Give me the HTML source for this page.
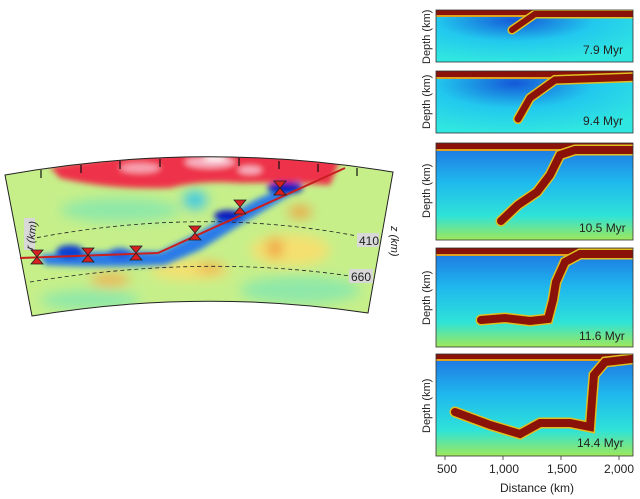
<!DOCTYPE html>
<html><head><style>
body{margin:0;background:#fff;width:640px;height:499px;overflow:hidden;font-family:"Liberation Sans",sans-serif}
svg{position:absolute;left:0;top:0}
</style></head><body>
<svg width="640" height="499" viewBox="0 0 640 499">
<defs>
<clipPath id="fan"><path d="M5,175 Q200,140 393,172 L368,313 Q200,288 32,316 Z"/></clipPath>
<clipPath id="c1"><rect x="436" y="10" width="197" height="52"/></clipPath>
<clipPath id="c2"><rect x="436" y="71" width="197" height="62"/></clipPath>
<clipPath id="c3"><rect x="436" y="143" width="197" height="97"/></clipPath>
<clipPath id="c4"><rect x="436" y="248" width="197" height="99"/></clipPath>
<clipPath id="c5"><rect x="436" y="354" width="197" height="102"/></clipPath>
<filter id="b6" x="-50%" y="-50%" width="200%" height="200%"><feGaussianBlur stdDeviation="6"/></filter>
<filter id="b3" x="-50%" y="-50%" width="200%" height="200%"><feGaussianBlur stdDeviation="3"/></filter>
<linearGradient id="mant" x1="0" y1="0" x2="0" y2="1"><stop offset="0" stop-color="#1f6fe0"/><stop offset="0.4" stop-color="#1fb8ee"/><stop offset="0.75" stop-color="#2ee3d8"/><stop offset="1" stop-color="#9ee85a"/></linearGradient>
<radialGradient id="mant2" cx="0.4" cy="0.2" r="0.8"><stop offset="0" stop-color="#1558d8"/><stop offset="0.5" stop-color="#22c8ee"/><stop offset="1" stop-color="#30e6e0"/></radialGradient>
</defs>
<g clip-path="url(#fan)">
<rect x="0" y="140" width="400" height="190" fill="#c6ef8a"/>
<g filter="url(#b6)">
<ellipse cx="120" cy="210" rx="60" ry="12" fill="#8fe8a8"/>
<ellipse cx="300" cy="290" rx="60" ry="14" fill="#8fe8a8"/>
<ellipse cx="90" cy="300" rx="50" ry="10" fill="#8fe8a8"/>
<ellipse cx="290" cy="250" rx="40" ry="16" fill="#f4e070"/>
<ellipse cx="190" cy="270" rx="40" ry="10" fill="#f4e070"/>
<ellipse cx="110" cy="280" rx="20" ry="6" fill="#f0b050"/>
<ellipse cx="300" cy="212" rx="12" ry="6" fill="#f0a040"/>
<ellipse cx="275" cy="248" rx="8" ry="10" fill="#f0a040"/>
<ellipse cx="210" cy="268" rx="14" ry="4" fill="#f0a040"/>
<ellipse cx="195" cy="200" rx="12" ry="9" fill="#3cc8e8"/>
</g>
<g filter="url(#b3)">
<path d="M50,167 Q200,140 340,160 L330,185 Q280,182 240,183 Q200,180 170,188 Q110,190 60,178 Z" fill="#ee3048"/>
<ellipse cx="210" cy="162" rx="25" ry="6" fill="#f8b0c0"/>
<ellipse cx="140" cy="168" rx="20" ry="5" fill="#f8a0b0"/>
<ellipse cx="250" cy="170" rx="12" ry="4" fill="#f8b0c0"/>
<ellipse cx="215" cy="158" rx="12" ry="3" fill="#fff"/>
<path d="M40,255 Q100,250 160,252 L200,232 L255,200 L300,180 L290,195 L240,225 L200,250 L165,265 Q100,268 45,265 Z" fill="#2a7be8"/>
<ellipse cx="70" cy="252" rx="14" ry="7" fill="#1040d0"/>
<ellipse cx="120" cy="254" rx="12" ry="6" fill="#2060e0"/>
<ellipse cx="228" cy="216" rx="14" ry="6" fill="#0a1ac0"/>
<ellipse cx="285" cy="188" rx="18" ry="6" fill="#0a1ac0"/>
</g>
</g>
<path d="M5,175 Q200,140 393,172 L368,313 Q200,288 32,316 Z" fill="none" stroke="#222" stroke-width="1"/>
<g stroke="#111" stroke-width="1.2">
<line x1="41" y1="170" x2="41" y2="178"/><line x1="81" y1="165" x2="81" y2="173"/><line x1="120" y1="161" x2="120" y2="169"/><line x1="160" y1="159" x2="160" y2="167"/><line x1="239" y1="158" x2="239" y2="166"/><line x1="279" y1="161" x2="279" y2="169"/><line x1="318" y1="164" x2="318" y2="172"/><line x1="357" y1="168" x2="357" y2="176"/>
</g>
<path d="M30,239 Q200,206 357,236" fill="none" stroke="#222" stroke-width="0.8" stroke-dasharray="4,3"/>
<path d="M30,282 Q200,254 350,276" fill="none" stroke="#222" stroke-width="0.8" stroke-dasharray="4,3"/>
<rect x="357" y="233" width="22" height="14" fill="#d8d8d8"/><text x="359" y="245" font-size="12" fill="#222">410</text>
<rect x="349" y="269" width="24" height="14" fill="#d8d8d8"/><text x="351" y="281" font-size="12" fill="#222">660</text>
<rect x="24" y="218" width="11" height="32" fill="#d8d8d8"/>
<text transform="translate(33,250) rotate(-82)" font-size="11" font-style="italic" fill="#222">r (km)</text>
<text transform="translate(391,226) rotate(90)" font-size="11" font-style="italic" fill="#222">z (km)</text>
<polyline points="20,258 158,253 345,168" fill="none" stroke="#c82020" stroke-width="2"/>
<g fill="#d82020" stroke="#222" stroke-width="0.8">
<path d="M31,250 L43,250 L31,264 L43,264 Z"/>
<path d="M82,248 L94,248 L82,262 L94,262 Z"/>
<path d="M130,246 L142,246 L130,260 L142,260 Z"/>
<path d="M189,226 L201,226 L189,240 L201,240 Z"/>
<path d="M234,200 L246,200 L234,214 L246,214 Z"/>
<path d="M274,181 L286,181 L274,195 L286,195 Z"/>
</g>
<g clip-path="url(#c1)">
<rect x="436" y="10" width="197" height="52" fill="url(#mant2)"/>
<rect x="436" y="10" width="197" height="5" fill="#8b1208"/><rect x="436" y="15" width="197" height="2" fill="#e0a020"/>
<path d="M512,30 L535,14 L640,14" fill="none" stroke="#e0c020" stroke-width="9" stroke-linecap="round"/>
<path d="M512,30 L535,14 L640,14" fill="none" stroke="#8b1208" stroke-width="6" stroke-linecap="round"/>
</g>
<rect x="436" y="10" width="197" height="52" fill="none" stroke="#333" stroke-width="0.8"/>
<text x="583" y="54" font-size="12" fill="#222">7.9 Myr</text>
<g clip-path="url(#c2)">
<rect x="436" y="71" width="197" height="62" fill="url(#mant2)"/>
<rect x="436" y="71" width="197" height="6" fill="#8b1208"/><rect x="436" y="77" width="197" height="2" fill="#e0a020"/>
<path d="M518,119 L530,98 L555,80 L640,77" fill="none" stroke="#e0c020" stroke-width="10" stroke-linecap="round"/>
<path d="M518,119 L530,98 L555,80 L640,77" fill="none" stroke="#8b1208" stroke-width="7" stroke-linecap="round"/>
</g>
<rect x="436" y="71" width="197" height="62" fill="none" stroke="#333" stroke-width="0.8"/>
<text x="583" y="125" font-size="12" fill="#222">9.4 Myr</text>
<g clip-path="url(#c3)">
<rect x="436" y="143" width="197" height="97" fill="url(#mant)"/>
<rect x="436" y="143" width="197" height="6" fill="#8b1208"/><rect x="436" y="149" width="197" height="2" fill="#e0a020"/>
<path d="M501,221 L518,205 L537,192 L550,175 L560,155 L575,150 L640,150" fill="none" stroke="#e0c020" stroke-width="11" stroke-linecap="round"/>
<path d="M501,221 L518,205 L537,192 L550,175 L560,155 L575,150 L640,150" fill="none" stroke="#8b1208" stroke-width="8" stroke-linecap="round"/>
</g>
<rect x="436" y="143" width="197" height="97" fill="none" stroke="#333" stroke-width="0.8"/>
<text x="579" y="232" font-size="12" fill="#222">10.5 Myr</text>
<g clip-path="url(#c4)">
<rect x="436" y="248" width="197" height="99" fill="url(#mant)"/>
<rect x="436" y="248" width="197" height="6" fill="#8b1208"/><rect x="436" y="254" width="197" height="2" fill="#e0a020"/>
<path d="M481,320 L505,318 L530,321 L548,319 L553,300 L556,282 L565,262 L580,254 L640,254" fill="none" stroke="#e0c020" stroke-width="11" stroke-linecap="round"/>
<path d="M481,320 L505,318 L530,321 L548,319 L553,300 L556,282 L565,262 L580,254 L640,254" fill="none" stroke="#8b1208" stroke-width="8" stroke-linecap="round"/>
</g>
<rect x="436" y="248" width="197" height="99" fill="none" stroke="#333" stroke-width="0.8"/>
<text x="579" y="340" font-size="12" fill="#222">11.6 Myr</text>
<g clip-path="url(#c5)">
<rect x="436" y="354" width="197" height="102" fill="url(#mant)"/>
<rect x="436" y="354" width="197" height="5" fill="#8b1208"/><rect x="436" y="359" width="197" height="2" fill="#e0a020"/>
<path d="M455,412 L490,425 L520,434 L540,423 L570,423 L590,427 L592,400 L594,375 L605,362 L640,358" fill="none" stroke="#e0c020" stroke-width="11" stroke-linecap="round"/>
<path d="M455,412 L490,425 L520,434 L540,423 L570,423 L590,427 L592,400 L594,375 L605,362 L640,358" fill="none" stroke="#8b1208" stroke-width="8" stroke-linecap="round"/>
</g>
<rect x="436" y="354" width="197" height="102" fill="none" stroke="#333" stroke-width="0.8"/>
<text x="577" y="447" font-size="12" fill="#222">14.4 Myr</text>
<g font-size="11" fill="#222">
<text transform="translate(430,64) rotate(-90)">Depth (km)</text>
<text transform="translate(430,129) rotate(-90)">Depth (km)</text>
<text transform="translate(430,218) rotate(-90)">Depth (km)</text>
<text transform="translate(430,325) rotate(-90)">Depth (km)</text>
<text transform="translate(430,433) rotate(-90)">Depth (km)</text>
</g>
<g stroke="#333" stroke-width="0.8">
<line x1="445" y1="456" x2="445" y2="460"/><line x1="503" y1="456" x2="503" y2="460"/><line x1="561" y1="456" x2="561" y2="460"/><line x1="619" y1="456" x2="619" y2="460"/>
</g>
<g font-size="12" fill="#222" text-anchor="middle">
<text x="447" y="473">500</text><text x="504" y="473">1,000</text><text x="562" y="473">1,500</text><text x="619" y="473">2,000</text>
<text x="537" y="492">Distance (km)</text>
</g>
</svg>
</body></html>
